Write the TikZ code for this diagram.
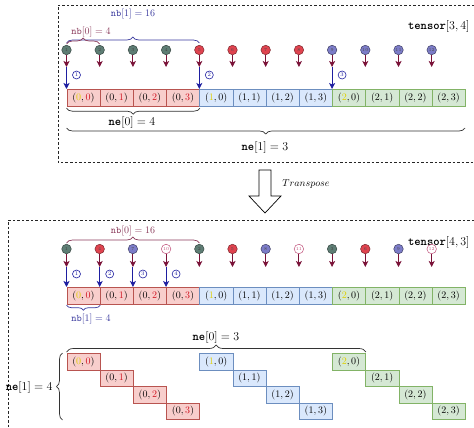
\documentclass[tikz,border=0pt]{standalone}
\usetikzlibrary{arrows.meta,decorations.pathreplacing,calc}
\definecolor{cRf}{HTML}{F8CECC}\definecolor{cRd}{HTML}{B85450}
\definecolor{cBf}{HTML}{DAE8FC}\definecolor{cBd}{HTML}{6C8EBF}
\definecolor{cGf}{HTML}{D5E8D4}\definecolor{cGd}{HTML}{82B366}
\definecolor{idxyel}{HTML}{E0D000}\definecolor{idxred}{HTML}{D0101E}
\definecolor{arrred}{HTML}{7A1238}\definecolor{arrblue}{HTML}{1E1EA0}
\definecolor{brmaroon}{HTML}{8A3A5A}\definecolor{brblue}{HTML}{3A3A9E}
\definecolor{dotgray}{HTML}{5E7D74}\definecolor{dotred}{HTML}{E0434F}
\definecolor{dotpur}{HTML}{7C7CC8}\definecolor{dotpink}{HTML}{C0507A}
\newcommand\yidx[1]{\textcolor{idxyel}{#1}}
\newcommand\ridx[1]{\textcolor{idxred}{#1}}
\newcommand\celltext[1]{\ifcase#1 $(\yidx{0},\ridx{0})$\or $(0,\ridx{1})$\or $(0,\ridx{2})$\or $(0,\ridx{3})$\or $(\yidx{1},0)$\or $(1,1)$\or $(1,2)$\or $(1,3)$\or $(\yidx{2},0)$\or $(2,1)$\or $(2,2)$\or $(2,3)$\fi}
\newcommand\ttb[1]{\texttt{\bfseries #1}}
\begin{document}
\begin{tikzpicture}[x=1pt,y=-1pt,
  panel/.style={draw=black!85, line width=0.6pt, dash pattern=on 2.5pt off 2pt},
  dot/.style={circle, line width=0.5pt, minimum size=9.5pt, inner sep=0pt, font=\fontsize{4.5}{4.5}\selectfont},
  cg/.style={dot, fill=dotgray, draw=dotgray!55!black, text=black!75},
  cr/.style={dot, fill=dotred, draw=dotred!55!black, text=black!70},
  cp/.style={dot, fill=dotpur, draw=dotpur!50!black, text=black!70},
  cw/.style={dot, fill=white, draw=dotpink, text=dotpink},
  cell/.style={draw, minimum width=33.2pt, minimum height=16.6pt, inner sep=0pt, anchor=north west, line width=0.6pt, font=\normalsize},
  cellR/.style={cell, fill=cRf, draw=cRd},
  cellB/.style={cell, fill=cBf, draw=cBd},
  cellG/.style={cell, fill=cGf, draw=cGd},
  darr/.style={draw=arrred, line width=0.9pt, -{Stealth[length=6pt,width=6pt,inset=1.5pt]}},
  barr/.style={draw=arrblue, line width=0.9pt, -{Stealth[length=6pt,width=6pt,inset=1.5pt]}},
  cnum/.style={circle, draw=arrblue, text=arrblue, line width=0.6pt, minimum size=8pt, inner sep=0pt, font=\fontsize{5.5}{5.5}\selectfont},
  brm/.style={draw=brmaroon, line width=0.7pt, decorate, decoration={brace, amplitude=#1}},
  brb/.style={draw=brblue, line width=0.7pt, decorate, decoration={brace, amplitude=#1}},
  brk/.style={draw=black!80, line width=0.7pt, decorate, decoration={brace, amplitude=#1}},
  lbm/.style={text=brmaroon, font=\normalsize},
  lbb/.style={text=brblue, font=\normalsize},
  lbk/.style={text=black, font=\large}
]
\useasboundingbox (0,0) rectangle (474,428);
% panels
\draw[panel] (474,5) -- (58,5) -- (58,162) -- (474,162);
\draw[panel] (474,220) -- (8,220) -- (8,428);

% ---------- top panel ----------
\node[lbk, anchor=east] (ttop) at (473,27) {$\ttb{tensor}[3,4]$};
\foreach \k/\n/\st in {0/1/cg,1/2/cg,2/3/cg,3/4/cg,4/5/cr,5/6/cr,6/7/cr,7/8/cr,8/9/cp,9/10/cp,10/11/cp,11/12/cp}{
  \node[\st] (t\n) at ({66.5+33.2*\k},50) {\n};
  \coordinate (te\n) at ({66.5+33.2*\k},67);
  \draw[darr] (t\n) -- (te\n);
}
\foreach \k/\st in {0/cellR,1/cellR,2/cellR,3/cellR,4/cellB,5/cellB,6/cellB,7/cellB,8/cellG,9/cellG,10/cellG,11/cellG}{
  \node[\st] (tm\k) at ({66.5+33.2*\k},89) {\celltext{\k}};
}
\foreach \n/\k/\q in {1/0/1,5/4/2,9/8/3}{
  \draw[barr] (te\n) -- (tm\k.north west);
  \node[cnum] (tq\q) at ({76.5+33.2*\k},75) {\q};
}
% braces top
\draw[brb=6pt] ($(t1.north)+(0,-2)$) coordinate (tb1a) -- ($(t5.north)+(0,-2)$) coordinate (tb1b);
\node[lbb] (tnb1) at (133,14) {$\texttt{nb}[1]=16$};
\draw[brm=6pt] ($(t1.north)+(0,-1)$) coordinate (tb0a) -- ($(t2.north)+(0,-1)$) coordinate (tb0b);
\node[lbm] (tnb0) at (91,32) {$\texttt{nb}[0]=4$};
\draw[brk=6pt] ($(tm3.south east)+(0,2)$) coordinate (tn0a) -- ($(tm0.south west)+(0,2)$) coordinate (tn0b);
\node[lbk] (tne0) at (132,122) {$\ttb{ne}[0]=4$};
\draw[brk=6pt] (465,128) coordinate (tn1a) -- (66.5,128) coordinate (tn1b);
\node[lbk] (tne1) at (265,147) {$\ttb{ne}[1]=3$};

% ---------- transpose arrow ----------
\draw[line width=0.7pt, fill=white] (259,170) -- (271,170) -- (271,196) -- (281,196) -- (265,213) -- (249,196) -- (259,196) -- cycle;
\node (tr) at (306,184) {$Transpose$};

% ---------- bottom panel ----------
\node[lbk, anchor=east] (tbot) at (473,242) {$\ttb{tensor}[4,3]$};
\foreach \k/\n/\st in {0/1/cg,1/4/cr,2/7/cp,3/10/cw,4/2/cg,5/5/cr,6/8/cp,7/11/cw,8/3/cg,9/6/cr,10/9/cp,11/12/cw}{
  \node[\st] (b\n) at ({66.5+33.2*\k},249) {\n};
  \coordinate (be\k) at ({66.5+33.2*\k},267);
  \draw[darr] (b\n) -- (be\k);
}
\foreach \k/\st in {0/cellR,1/cellR,2/cellR,3/cellR,4/cellB,5/cellB,6/cellB,7/cellB,8/cellG,9/cellG,10/cellG,11/cellG}{
  \node[\st] (bm\k) at ({66.5+33.2*\k},287) {\celltext{\k}};
}
\foreach \k/\q in {0/1,1/2,2/3,3/4}{
  \draw[barr] (be\k) -- (bm\k.north west);
  \node[cnum] (bq\q) at ({76.5+33.2*\k},274) {\q};
}
\draw[brm=6pt] ($(b1.north)+(0,-1)$) coordinate (bb0a) -- ($(b2.north)+(0,-1)$) coordinate (bb0b);
\node[lbm] (bnb0) at (133,231) {$\texttt{nb}[0]=16$};
\draw[brb=5pt] ($(bm0.south east)+(0,1)$) coordinate (bb1a) -- ($(bm0.south west)+(0,1)$) coordinate (bb1b);
\node[lbb] (bnb1) at (91,319) {$\texttt{nb}[1]=4$};

% diagonal cells
\foreach \r/\st in {0/cellR,1/cellB,2/cellG}{
  \foreach \c in {0,1,2,3}{
    \pgfmathtruncatemacro\k{4*\r+\c}
    \node[\st] (d\r\c) at ({66.5+33.2*\k},{353+16.6*\c}) {\celltext{\k}};
  }
}
\draw[brk=7pt] ($(d00.north west)+(0,-1)$) coordinate (bn0a) -- ($(d20.north east)+(0,-1)$) coordinate (bn0b);
\node[lbk] (bne0) at (216,337) {$\ttb{ne}[0]=3$};
\draw[brk=6pt] ($(d00.north west |- d03.south west)+(-4,0)$) coordinate (bn1a) -- ($(d00.north west)+(-4,0)$) coordinate (bn1b);
\node[lbk, anchor=east] (bne1) at (56,387) {$\ttb{ne}[1]=4$};
\end{tikzpicture}
\end{document}
